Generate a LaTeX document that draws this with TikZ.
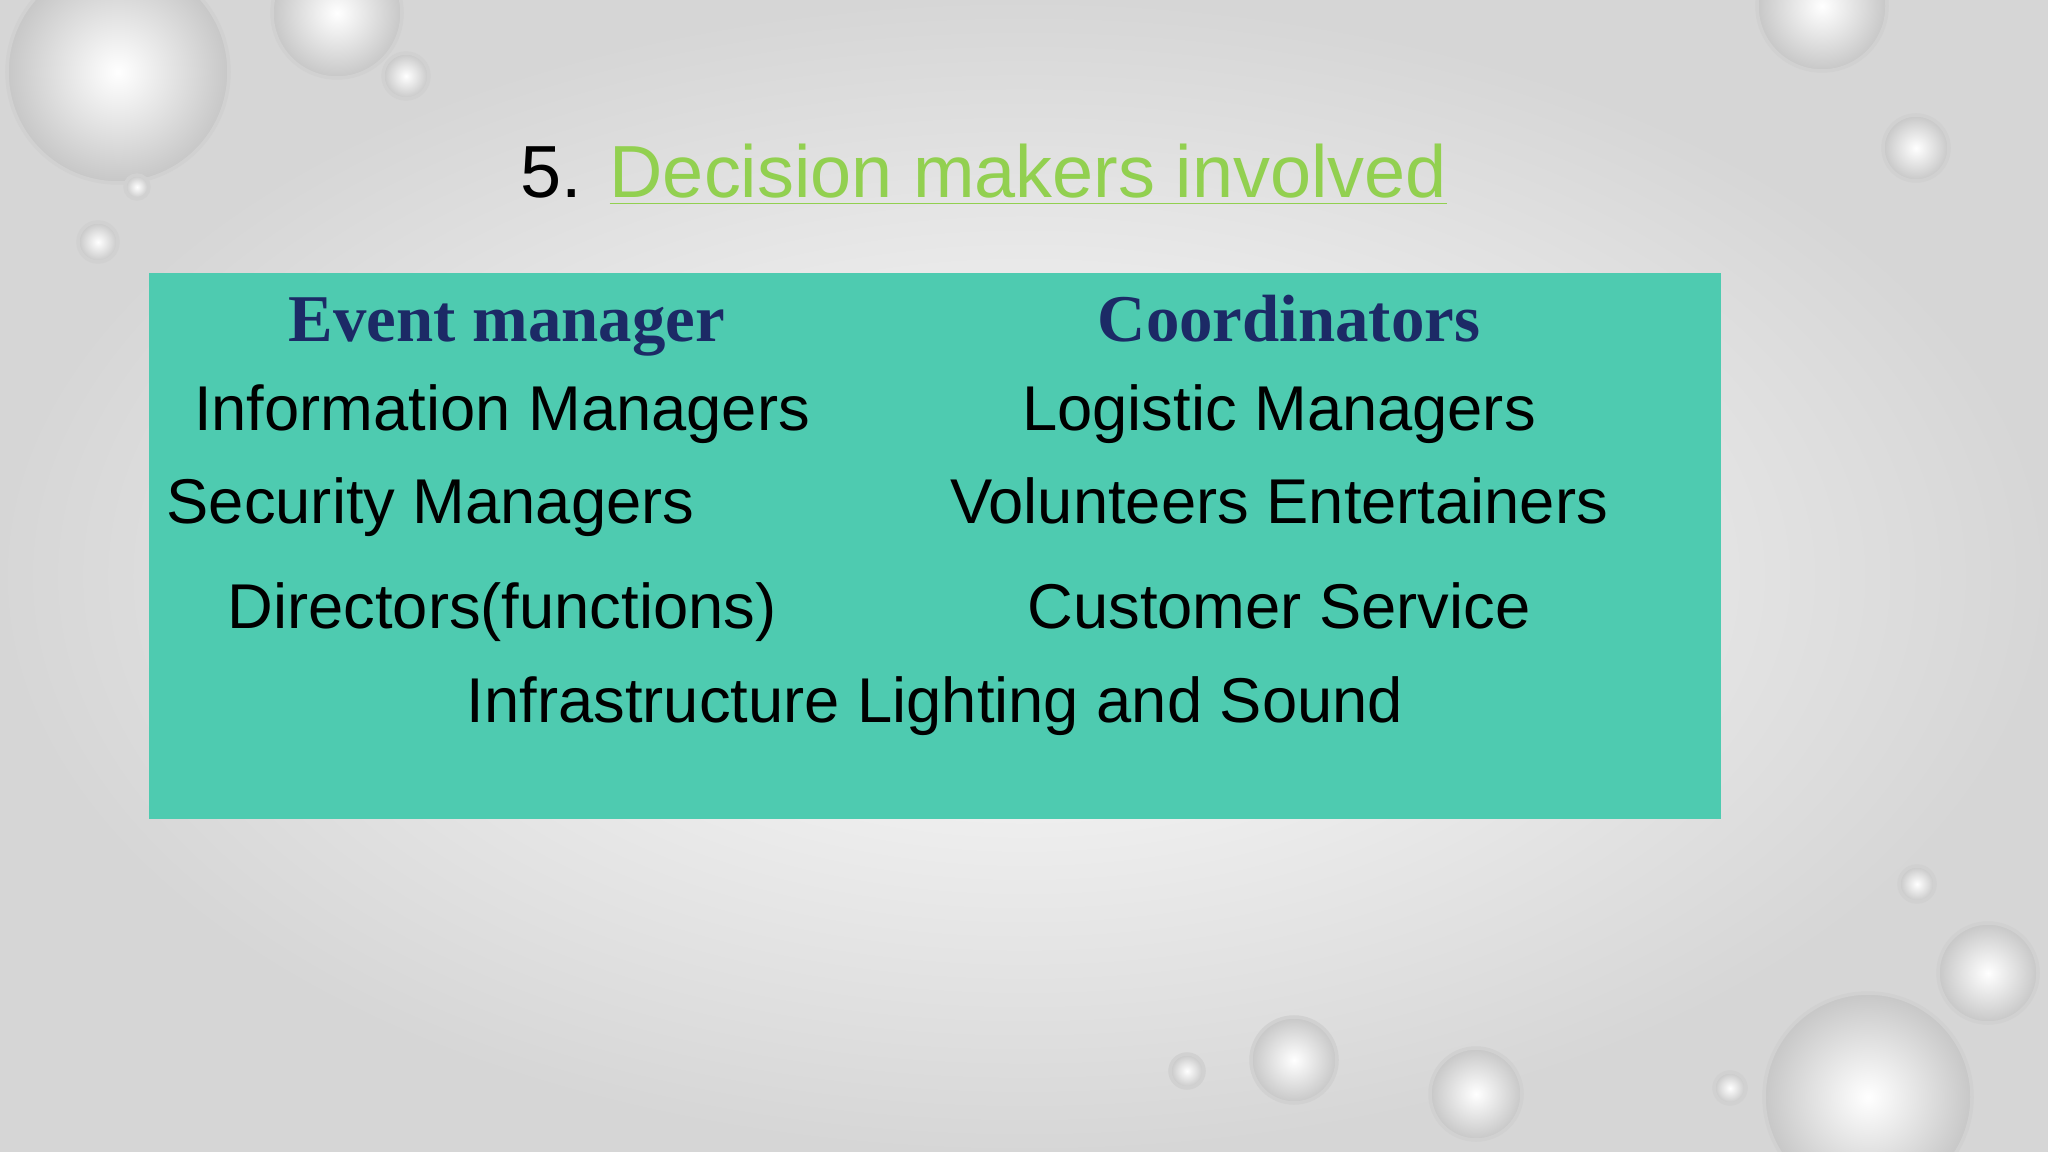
\documentclass[tikz,border=0pt]{standalone}
\usepackage{fontspec}
\setmainfont{Liberation Sans}
\newfontfamily\headfont{Liberation Serif}
\definecolor{teal1}{HTML}{4ECBB0}
\definecolor{navy1}{HTML}{1C2A66}
\definecolor{green1}{HTML}{92D050}
\begin{document}
\begin{tikzpicture}[x=0.01cm,y=-0.01cm,
  item/.style={font=\fontsize{18}{20}\selectfont, text=black, inner sep=0pt, anchor=base},
  head/.style={font=\headfont\bfseries\fontsize{19}{22}\selectfont, text=navy1, inner sep=0pt, anchor=base},
  drop/.style={inner color=white, outer color=black!22, draw=black!18, line width=1pt}]
\useasboundingbox (0,0) rectangle (2048,1152);
\shade[inner color=white, outer color=black!16] (0,0) rectangle (2048,1152);
\foreach \x/\y/\r in {118/72/111, 337/13/65, 406/76/23, 137/187/12, 98/242/20, 1822/6/65, 1916/148/33, 1917/884/18, 1988/973/50, 1294/1060/43, 1476/1094/46, 1187/1071/17, 1730/1088/16, 1868/1097/104}
  \shade[drop] (\x,\y) circle (\r);
\node[inner sep=0pt, anchor=base west, font=\fontsize{21}{24}\selectfont] (title) at (520,198)
  {5. \textcolor{green1}{\underline{Decision makers involved}}};
\fill[teal1] (149,273) rectangle (1721,819);
\node[head] (h1) at (507,342) {Event manager};
\node[head] (h2) at (1289,342) {Coordinators};
\node[item] (l1) at (502,431) {Information Managers};
\node[item, anchor=base west] (l2) at (166,524) {Security Managers};
\node[item] (l3) at (502,628) {Directors(functions)};
\node[item] (r1) at (1279,431) {Logistic Managers};
\node[item] (r2) at (1279,524) {Volunteers Entertainers};
\node[item] (r3) at (1279,628) {Customer Service};
\node[item] (b1) at (935,722) {Infrastructure Lighting and Sound};
\end{tikzpicture}
\end{document}
